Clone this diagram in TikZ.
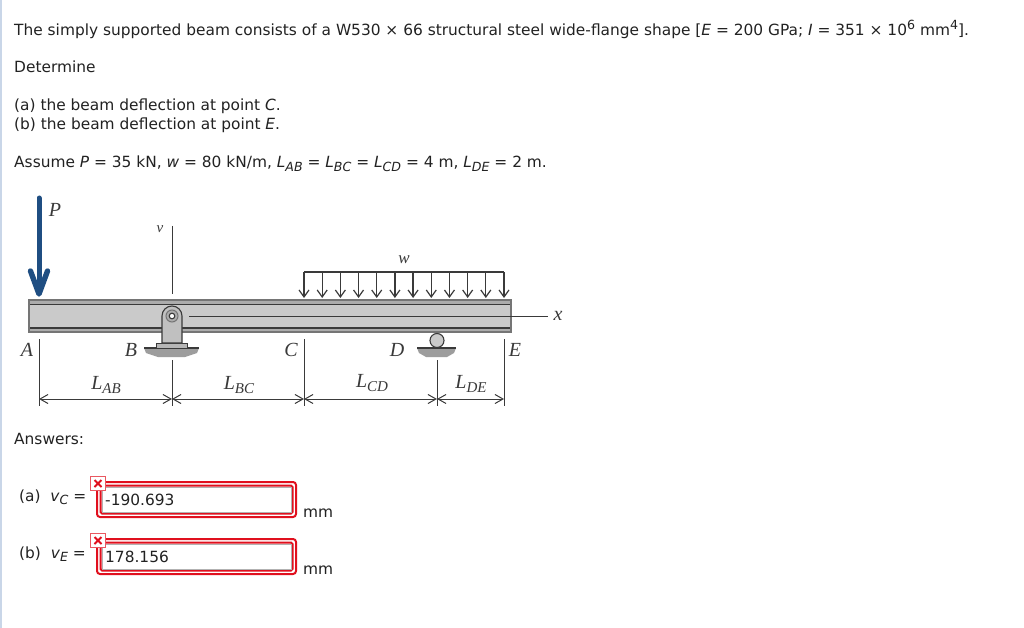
\documentclass[tikz,border=0pt]{standalone}
\usepackage{fontspec}
\setmainfont{DejaVu Sans}
\newfontfamily\figfont{Liberation Serif}
\usetikzlibrary{arrows.meta}
\definecolor{txt}{HTML}{222222}
\definecolor{side}{HTML}{C9D6E8}
\definecolor{beamfill}{HTML}{CACACA}
\definecolor{ink}{HTML}{3A3A3A}
\definecolor{pblue}{HTML}{1F4E82}
\definecolor{errred}{HTML}{E0101E}
\newcommand{\tsub}[1]{\raisebox{-3.2pt}{\fontsize{12.6}{14}\selectfont\textit{#1}}}
\newcommand{\tsup}[1]{\raisebox{6pt}{\fontsize{12.6}{14}\selectfont #1}}
\newcommand{\fsub}[1]{\raisebox{-3.5pt}{\fontsize{15}{16}\selectfont #1}}
\tikzset{
 prose/.style={anchor=base west,inner sep=0pt,text=txt,font=\fontsize{15.4}{17}\selectfont},
 figlab/.style={inner sep=0pt,text=ink,font=\figfont\itshape\fontsize{20}{22}\selectfont},
 thinl/.style={draw=ink,line width=1pt},
 dimarrow/.style={draw=ink,line width=1pt,{Straight Barb[length=8pt,width=9pt,line width=1pt]}-{Straight Barb[length=8pt,width=9pt,line width=1pt]}},
 loadarrow/.style={draw=ink,line width=1.2pt,-{Straight Barb[length=7pt,width=10pt,line width=1.2pt]}},
 errbox/.style={draw=errred,line width=2pt,rounded corners=3pt,fill=white},
}
\begin{document}
\begin{tikzpicture}[x=1pt,y=-1pt]
\useasboundingbox (0,0) rectangle (1024,628);
\fill[white] (0,0) rectangle (1024,628);
\fill[side] (0,0) rectangle (1.5,628);

\node[prose] (t1) at (14,36) {The simply supported beam consists of a W530 × 66 structural steel wide-flange shape [\textit{E} = 200 GPa; \textit{I} = 351 × 10\tsup{6} mm\tsup{4}].};
\node[prose] (t2) at (14,73) {Determine};
\node[prose] (t3) at (14,111) {(a) the beam deflection at point \textit{C}.};
\node[prose] (t4) at (14,130) {(b) the beam deflection at point \textit{E}.};
\node[prose] (t5) at (14,168) {Assume \textit{P} = 35 kN, \textit{w} = 80 kN/m, \textit{L}\tsub{AB} = \textit{L}\tsub{BC} = \textit{L}\tsub{CD} = 4 m, \textit{L}\tsub{DE} = 2 m.};

% beam
\fill[beamfill] (29,300) rectangle (511,332);
\fill[beamfill!85!black] (29,300) rectangle (511,304.5);
\fill[beamfill!85!black] (29,328) rectangle (511,332);
\draw[ink,line width=1.1pt] (29,304.5) -- (511,304.5) (29,328) -- (511,328);
\draw[ink!70,line width=1.2pt] (29,300) rectangle (511,332);

% axes
\coordinate (vtop) at (172,226);
\coordinate (vbot) at (172,294);
\draw[thinl] (vtop) -- (vbot);
\coordinate (xa) at (189,316);
\coordinate (xb) at (548,316);
\draw[thinl] (xa) -- (xb);
\node[figlab] (xlab) at (558,316) {x};
\node[figlab,font=\figfont\itshape\fontsize{15}{16}\selectfont] (vlab) at (160,229) {v};

% pin support B
\fill[ink!50] (144,348) -- (199,348) -- (197,353) -- (185,357) -- (158,357) -- (146,353) -- cycle;
\draw[ink,line width=1.6pt] (144,348) -- (199,348);
\draw[ink,line width=1pt,fill=beamfill!90!black] (156,343) rectangle (187,348);
\draw[ink,line width=1.1pt,fill=beamfill!95!black] (162,343) -- (162,316) arc[start angle=180,end angle=360,radius=10] -- (182,343) -- cycle;
\draw[ink!70,line width=1pt,fill=beamfill!85!black] (172,316) circle[radius=6];
\draw[ink,line width=1.1pt,fill=white] (172,316) circle[radius=2.8];

% roller support D
\fill[ink!50] (417,348) -- (456,348) -- (454,353) -- (447,357) -- (426,357) -- (419,353) -- cycle;
\draw[ink,line width=1.6pt] (417,348) -- (456,348);
\draw[ink,line width=1.1pt,fill=beamfill] (437,340.5) circle[radius=7];

% extension lines
\coordinate (Aa) at (39,339); \coordinate (Ab) at (39,406);
\coordinate (Ba) at (172,360); \coordinate (Bb) at (172,406);
\coordinate (Ca) at (304,339); \coordinate (Cb) at (304,406);
\coordinate (Da) at (437,360); \coordinate (Db) at (437,406);
\coordinate (Ea) at (504,339); \coordinate (Eb) at (504,406);
\foreach \p in {A,B,C,D,E} \draw[thinl] (\p a) -- (\p b);

% dimensions
\coordinate (Ad) at (39,399); \coordinate (Bd) at (172,399); \coordinate (Cd) at (304,399);
\coordinate (Dd) at (437,399); \coordinate (Ed) at (504,399);
\draw[dimarrow] (Ad) -- (Bd);
\draw[dimarrow] (Bd) -- (Cd);
\draw[dimarrow] (Cd) -- (Dd);
\draw[dimarrow] (Dd) -- (Ed);

% load P
\coordinate (Ptop) at (39,198);
\draw[pblue,line width=5pt,line cap=round] (Ptop) -- (39,290);
\draw[pblue,line width=5.4pt,line cap=round,line join=round] (30.5,271) -- (39,294) -- (47.5,271);
\fill[pblue] (32,277) -- (39,296) -- (46,277) -- (39,283) -- cycle;
\node[figlab] (Plab) at (55,210) {P};

% distributed load
\coordinate (wl) at (304,272);
\coordinate (wr) at (504,272);
\draw[ink,line width=1.2pt] (wl) -- (wr);
\foreach \i in {0,...,11} {
  \coordinate (wa\i) at ({304+\i*200/11},272);
  \coordinate (wb\i) at ({304+\i*200/11},298);
  \draw[loadarrow] (wa\i) -- (wb\i);
}
\node[figlab,font=\figfont\itshape\fontsize{17}{18}\selectfont] (wlab) at (404,260) {w};

% point labels
\node[figlab] (A) at (27,350) {A};
\node[figlab] (B) at (131,350) {B};
\node[figlab] (C) at (291,350) {C};
\node[figlab] (D) at (397,350) {D};
\node[figlab] (E) at (515,350) {E};
\node[figlab] (LAB) at (106,385) {L\fsub{AB}};
\node[figlab] (LBC) at (239,385) {L\fsub{BC}};
\node[figlab] (LCD) at (372,383) {L\fsub{CD}};
\node[figlab] (LDE) at (471,384) {L\fsub{DE}};

% answers
\node[prose] (ans) at (14,444) {Answers:};
\node[prose] (qa) at (19,501) {(a)\ \ \textit{v}\tsub{C} =};
\node[prose] (qb) at (19,558) {(b)\ \ \textit{v}\tsub{E} =};

\foreach \yt/\yb/\val/\nm in {482/517/-190.693/a,539/574/178.156/b} {
  \draw[errbox] (97,\yt) rectangle (296,\yb);
  \draw[errbox,rounded corners=1.5pt,fill=none] (100.5,\yt+3.5) rectangle (292.5,\yb-3.5);
  \draw[gray!60,line width=0.7pt] (102,\yt+5) rectangle (291,\yb-5);
  \fill[white] (90,\yt-6) rectangle (106,\yt+9);
  \draw[errred!70,line width=1pt] (90.5,\yt-5.5) rectangle (105.5,\yt+8.5);
  \draw[errred,line width=2pt] (94.5,\yt-2) -- (101.5,\yt+5) (101.5,\yt-2) -- (94.5,\yt+5);
  \node[prose] (val\nm) at (105,\yb-12) {\val};
  \node[prose] (mm\nm) at (303,\yb) {mm};
}
\end{tikzpicture}
\end{document}
